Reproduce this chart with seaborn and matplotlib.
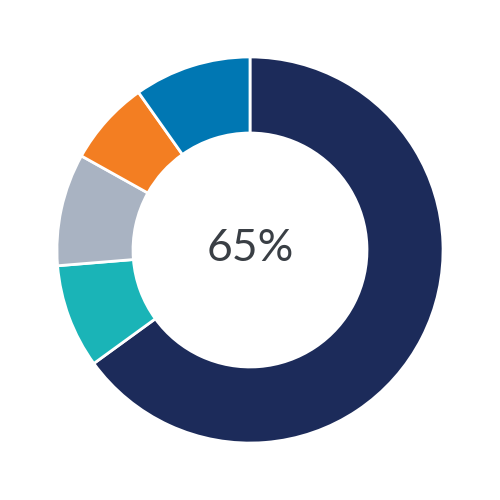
import matplotlib
matplotlib.use("Agg")
import matplotlib.pyplot as plt
import seaborn as sns

# segment values, clockwise from 12 o'clock
labels = ["Main", "Teal", "Grey", "Orange", "Blue"]
values = [65, 8.7, 9.4, 7.1, 9.8]
colors = ["#1c2b5a", "#1ab4b7", "#a9b3c2", "#f37e22", "#0077b3"]
center_text = "65%"

sns.set_theme(style="white")
plt.rcParams["font.family"] = ["Lato", "DejaVu Sans"]

fig, ax = plt.subplots(figsize=(5, 5), dpi=100)
fig.subplots_adjust(left=0, right=1, bottom=0, top=1)

ax.pie(values, colors=colors, startangle=90, counterclock=False,
       radius=1.0,
       wedgeprops=dict(width=0.394, edgecolor="white", linewidth=2))
ax.set_xlim(-1.295, 1.295)
ax.set_ylim(-1.295, 1.295)
ax.set_aspect("equal")
ax.axis("off")

ax.text(0, 0.01, center_text, ha="center", va="center",
        fontsize=32, fontweight="normal", color="#3a3f45")

plt.savefig("out.png", dpi=100, facecolor="white")
